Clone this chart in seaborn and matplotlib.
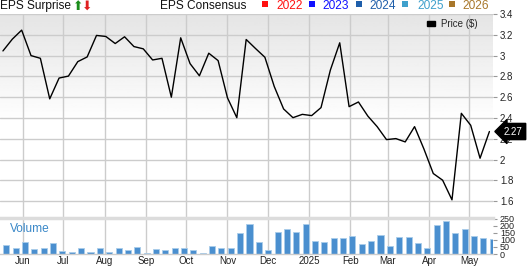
import numpy as np
import pandas as pd
import matplotlib
matplotlib.use("Agg")
import matplotlib.pyplot as plt
import matplotlib.dates as mdates
from matplotlib.patches import Patch, Rectangle
from matplotlib.transforms import blended_transform_factory
from matplotlib.ticker import FixedLocator, FixedFormatter
import seaborn as sns

# ---------------- data ----------------
dates = pd.date_range("2024-05-17", periods=53, freq="7D")
price = [3.045, 3.158, 3.245, 3.00, 2.974, 2.584, 2.784, 2.803, 2.942, 2.987,
         3.194, 3.184, 3.116, 3.181, 3.087, 3.065, 2.958, 2.974, 2.60, 3.171,
         2.923, 2.806, 3.023, 2.952, 2.594, 2.403, 3.155, 3.068, 2.984, 2.703,
         2.487, 2.403, 2.435, 2.423, 2.50, 2.861, 3.123, 2.509, 2.554, 2.419,
         2.317, 2.192, 2.202, 2.170, 2.317, 2.102, 1.866, 1.802, 1.613, 2.445,
         2.330, 2.013, 2.27]
volume = [64, 43, 86, 38, 45, 81, 24, 14, 45, 17, 45, 14, 45, 29, 48, 5, 38, 29,
          45, 43, 26, 10, 57, 40, 45, 150, 217, 88, 29, 155, 179, 155, 214, 95,
          86, 114, 112, 126, 71, 95, 133, 60, 119, 119, 79, 40, 207, 236, 148,
          179, 126, 114, 107]
month_ticks = pd.date_range("2024-06-01", "2025-05-01", freq="MS")
month_labels = ["Jun", "Jul", "Aug", "Sep", "Oct", "Nov", "Dec", "2025",
                "Feb", "Mar", "Apr", "May"]
price_ticks = [1.6, 1.8, 2.0, 2.2, 2.4, 2.6, 2.8, 3.0, 3.2, 3.4]
volume_ticks = [0, 50, 100, 150, 200, 250]
years = ["2022", "2023", "2024", "2025", "2026"]
year_colors = ["#ff1010", "#1010ff", "#1f5fab", "#3fa0cc", "#a8772a"]
last_price = 2.27

# ---------------- style ----------------
sns.set_style("white")
plt.rcParams["font.family"] = ["Liberation Sans", "DejaVu Sans"]

W, H = 527, 266
fig = plt.figure(figsize=(W / 100, H / 100), dpi=100)
ax = fig.add_axes([0, 1 - 217 / H, 493 / W, 203 / H])
axv = fig.add_axes([0, 1 - 254 / H, 493 / W, 36 / H])

xnum = mdates.date2num(dates)
vol_x = xnum + 2.5
px_per_day = 1.3364
x0 = mdates.date2num(pd.Timestamp("2024-06-01")) - 23 / px_per_day
x1 = x0 + 493 / px_per_day
tick_num = mdates.date2num(month_ticks)

# gradient background for the price panel
grad = np.linspace(0.895, 1.0, 120)
grad = np.concatenate([grad, np.ones(100)])[:, None]
ax.imshow(grad, extent=(0, 1, 0, 1), transform=ax.transAxes, aspect="auto",
          cmap="gray", vmin=0, vmax=1, zorder=-2, origin="upper")

sns.lineplot(x=xnum, y=price, ax=ax, color="black", linewidth=1.0)

sns.barplot(x=vol_x, y=volume, native_scale=True, ax=axv, color="#4a8fcf",
            saturation=1, edgecolor="#a9cdea", linewidth=0.6, width=0.65,
            errorbar=None)

for a in (ax, axv):
    a.set_xlim(x0, x1)
    a.xaxis.set_major_locator(FixedLocator(tick_num))
    a.grid(True, axis="x", color="#cccccc", linewidth=1)
    a.set_axisbelow(True)
    a.set_xlabel("")
    a.set_ylabel("")
    for s in a.spines.values():
        s.set_visible(False)

# price panel
ax.set_ylim(1.448, 3.4)
ax.set_yticks(price_ticks)
ax.set_yticklabels([f"{t:g}" for t in price_ticks])
ax.grid(True, axis="y", color="#cccccc", linewidth=1)
ax.yaxis.tick_right()
ax.tick_params(axis="y", right=True, left=False, length=3, width=0.8,
               color="#999999", pad=2, labelsize=7, labelcolor="#222222")
ax.tick_params(axis="x", bottom=False, labelbottom=False)
ax.set_facecolor("none")

# volume panel
axv.set_ylim(0, 257)
axv.set_yticks(volume_ticks)
axv.set_yticklabels([str(v) for v in volume_ticks])
axv.yaxis.tick_right()
axv.tick_params(axis="y", right=True, left=False, length=3, width=0.8,
                color="#999999", pad=2, labelsize=6.5, labelcolor="#222222")
axv.xaxis.set_major_formatter(FixedFormatter(month_labels))
axv.tick_params(axis="x", bottom=False, length=0, pad=1.5, labelsize=7,
                labelcolor="#222222")
axv.spines["top"].set_visible(True)
axv.spines["top"].set_color("#dcdcdc")
axv.spines["top"].set_linewidth(2.5)
axv.spines["bottom"].set_visible(True)
axv.spines["bottom"].set_color("#cccccc")
axv.spines["bottom"].set_linewidth(1)

fig.text(10 / W, 1 - 229 / H, "Volume", color="#3a88c8", fontsize=8.6,
         va="center", ha="left")

# price legend
ax.legend(handles=[Patch(facecolor="black", edgecolor="black")],
          labels=["Price ($)"], loc="upper right",
          bbox_to_anchor=(0.968, 0.975), frameon=False, fontsize=7,
          handlelength=0.9, handleheight=0.45, handletextpad=0.55,
          borderpad=0, borderaxespad=0)

# last price label
tr = blended_transform_factory(ax.transAxes, ax.transData)
ax.text(1.022, last_price, f"{last_price:.2f}", transform=tr, ha="left",
        va="center", color="white", fontsize=7, clip_on=False, zorder=10,
        bbox=dict(boxstyle="larrow,pad=0.32", fc="black", ec="black"))

# header
base = 1 - 9.3 / H
fig.text(0, base, "EPS Surprise", fontsize=8.6, va="baseline", ha="left",
         color="#111111")
fig.text(72.5 / W, base - 0.5 / H, "\u2b06", fontsize=9, va="baseline",
         ha="left", color="#1a8c1a", family="DejaVu Sans")
fig.text(81.5 / W, base - 0.5 / H, "\u2b07", fontsize=9, va="baseline",
         ha="left", color="#e02020", family="DejaVu Sans")
fig.text(160 / W, base, "EPS Consensus", fontsize=8.6, va="baseline",
         ha="left", color="#111111")
sq_x = [262, 309, 356, 402, 449]
txt_x = [276, 322, 369, 417, 462]
for yr, c, sx, tx in zip(years, year_colors, sq_x, txt_x):
    fig.patches.append(Rectangle((sx / W, 1 - 7.3 / H), 6 / W, 6.3 / H,
                                 transform=fig.transFigure, facecolor=c,
                                 edgecolor="none"))
    fig.text(tx / W, base, yr, fontsize=8.6, va="baseline", ha="left", color=c)

fig.savefig("out.png", dpi=100)
